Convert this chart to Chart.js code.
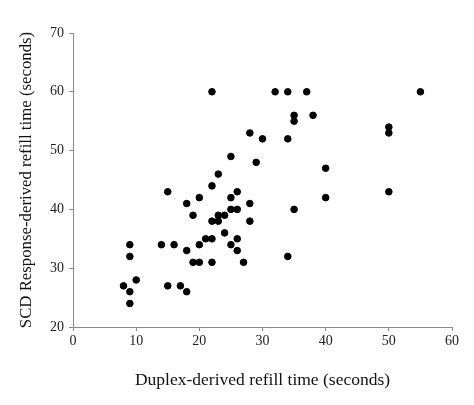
<!DOCTYPE html>
<html>
<head>
<meta charset="utf-8">
<script src="https://cdn.jsdelivr.net/npm/chart.js@4/dist/chart.umd.min.js"></script>
<style>
  html, body { margin: 0; padding: 0; background: #fff; }
  #wrap { width: 474px; height: 405px; }
</style>
</head>
<body>
<div id="wrap"><canvas id="scatter"></canvas></div>
<script>
// Data
const duplexTimes = [22, 28, 30, 25, 29, 23, 32, 34, 37, 55, 35, 35, 38, 34, 50, 50, 40,
    22, 15, 26, 20, 25, 18, 28, 25, 26, 19, 23, 24, 22, 23, 28, 24, 21, 22, 26,
    9, 14, 16, 20, 25, 18, 26, 9, 19, 20, 22, 27, 10, 8, 15, 17, 9, 18, 9,
    40, 50, 35, 34];
const scdTimes = [60, 53, 52, 49, 48, 46, 60, 60, 60, 60, 56, 55, 56, 52, 54, 53, 47,
    44, 43, 43, 42, 42, 41, 41, 40, 40, 39, 39, 39, 38, 38, 38, 36, 35, 35, 35,
    34, 34, 34, 34, 34, 33, 33, 32, 31, 31, 31, 31, 28, 27, 27, 27, 26, 26, 24,
    42, 43, 40, 32];
const xTicks = [0, 10, 20, 30, 40, 50, 60];
const yTicks = [20, 30, 40, 50, 60, 70];

const points = duplexTimes.map((x, i) => ({ x: x, y: scdTimes[i] }));

const axisColor = "#8a8a8a";
const serif = "'Liberation Serif', 'DejaVu Serif', serif";

new Chart(document.getElementById("scatter"), {
    type: "scatter",
    data: {
        datasets: [{
            data: points,
            backgroundColor: "#000",
            borderColor: "#000",
            pointRadius: 3.3,
            pointHoverRadius: 3.3
        }]
    },
    options: {
        responsive: true,
        maintainAspectRatio: false,
        animation: false,
        layout: { padding: { left: 0, right: 22, top: 33, bottom: 0 } },
        plugins: { legend: { display: false }, tooltip: { enabled: false } },
        scales: {
            x: {
                type: "linear",
                min: xTicks[0],
                max: xTicks[xTicks.length - 1],
                afterBuildTicks: (scale) => { scale.ticks = xTicks.map(v => ({ value: v })); },
                afterFit: (scale) => { scale.height = 78; },
                border: { display: true, color: axisColor, width: 1 },
                grid: { drawOnChartArea: false, drawTicks: true, tickLength: 4, color: axisColor },
                ticks: { padding: 2, color: "#222", font: { family: serif, size: 14 } },
                title: {
                    display: true,
                    text: "Duplex-derived refill time (seconds)",
                    color: "#111",
                    font: { family: serif, size: 17.5 },
                    padding: { top: 0, bottom: 14 }
                }
            },
            y: {
                type: "linear",
                min: yTicks[0],
                max: yTicks[yTicks.length - 1],
                afterBuildTicks: (scale) => { scale.ticks = yTicks.map(v => ({ value: v })); },
                afterFit: (scale) => { scale.width = 73; },
                border: { display: true, color: axisColor, width: 1 },
                grid: { drawOnChartArea: false, drawTicks: true, tickLength: 4, color: axisColor },
                ticks: { padding: 5, color: "#222", font: { family: serif, size: 14 } },
                title: {
                    display: true,
                    text: "SCD Response-derived refill time (seconds)",
                    color: "#111",
                    font: { family: serif, size: 16.8 },
                    padding: { top: 17, bottom: 0 }
                }
            }
        }
    }
});
</script>
</body>
</html>
